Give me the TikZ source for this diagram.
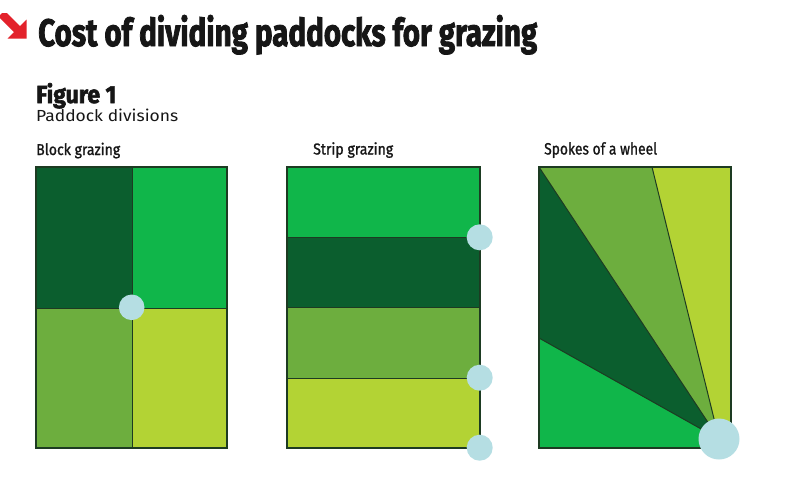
\documentclass[tikz,border=0pt]{standalone}
\usepackage{fontspec}
\setmainfont{Fira Sans}
\newfontfamily\heavyfont{Fira Sans}[BoldFeatures={FakeBold=2.5}]
\newfontfamily\labfont{Fira Sans}[UprightFeatures={FakeBold=1.2}]
\newfontfamily\subfont{Fira Sans}
\definecolor{dkgreen}{HTML}{0B5E2E}
\definecolor{brgreen}{HTML}{10B64A}
\definecolor{mdgreen}{HTML}{6DAE3E}
\definecolor{lime}{HTML}{B3D334}
\definecolor{hubblue}{HTML}{B5DEE3}
\definecolor{edge}{HTML}{1D3B22}
\definecolor{ink}{HTML}{161616}
\definecolor{arrowred}{HTML}{E3222B}
\begin{document}
\begin{tikzpicture}[x=1pt,y=-1pt,
  txt/.style={inner sep=0pt,anchor=base west,text=ink},
  hub/.style={circle,fill=hubblue,draw=none,inner sep=0pt,minimum size=#1},
  outl/.style={draw=edge,line width=1.1pt},
  div/.style={draw=edge,line width=1pt}]
\useasboundingbox[fill=white] (0,0) rectangle (790,485);
% title arrow
\fill[arrowred] (7,13) -- (20,26) -- (26.5,19.5) -- (26.5,38.5) -- (7.5,38.5) -- (14,32) -- (0,18) -- (0,15) -- (2,13) -- cycle;
\node[txt] (title) at (38,46) {\resizebox{499pt}{31pt}{\heavyfont\bfseries Cost of dividing paddocks for grazing}};
\node[txt] (fig) at (36,103) {\resizebox{80pt}{20pt}{\heavyfont\bfseries Figure 1}};
\node[txt] (sub) at (36,121) {\resizebox{142pt}{12.5pt}{\subfont Paddock divisions}};
\node[txt] (lblock) at (36,155) {\resizebox{84pt}{12.3pt}{\labfont Block grazing}};
\node[txt] (lstrip) at (313,154.5) {\resizebox{80pt}{12.3pt}{\labfont Strip grazing}};
\node[txt] (lspoke) at (544,154.5) {\resizebox{113pt}{12.3pt}{\labfont Spokes of a wheel}};
% block grazing
\fill[dkgreen] (36,167) rectangle (132,308);
\fill[brgreen] (132,167) rectangle (227,308);
\fill[mdgreen] (36,308) rectangle (132,448);
\fill[lime] (132,308) rectangle (227,448);
\draw[div] (132,167) -- (132,448);
\draw[div] (36,308) -- (227,308);
\draw[outl] (36,167) rectangle (227,448);
\node[hub=25.6pt] (hb) at (131.7,307.3) {};
% strip grazing
\fill[brgreen] (287,167) rectangle (480,237);
\fill[dkgreen] (287,237) rectangle (480,307);
\fill[mdgreen] (287,307) rectangle (480,378);
\fill[lime] (287,378) rectangle (480,448);
\draw[div] (287,237) -- (480,237);
\draw[div] (287,307) -- (480,307);
\draw[div] (287,378) -- (480,378);
\draw[outl] (287,167) rectangle (480,448);
\node[hub=26pt] (hs1) at (479.7,237.3) {};
\node[hub=26pt] (hs2) at (479.7,377.7) {};
\node[hub=26pt] (hs3) at (479.7,447.7) {};
% spokes of a wheel
\coordinate (H) at (719,439);
\coordinate (TL) at (539,167);
\coordinate (L) at (539,338);
\coordinate (T3) at (652,167);
\fill[brgreen] (539,167) rectangle (731,448);
\fill[dkgreen] (TL) -- (L) -- (H) -- cycle;
\fill[mdgreen] (TL) -- (T3) -- (H) -- cycle;
\fill[lime] (T3) -- (731,167) -- (731,439) -- (H) -- cycle;
\draw[div] (TL) -- (H);
\draw[div] (L) -- (H);
\draw[div] (T3) -- (H);
\draw[outl] (539,167) rectangle (731,448);
\node[hub=41pt] (hw) at (H) {};
\end{tikzpicture}
\end{document}
